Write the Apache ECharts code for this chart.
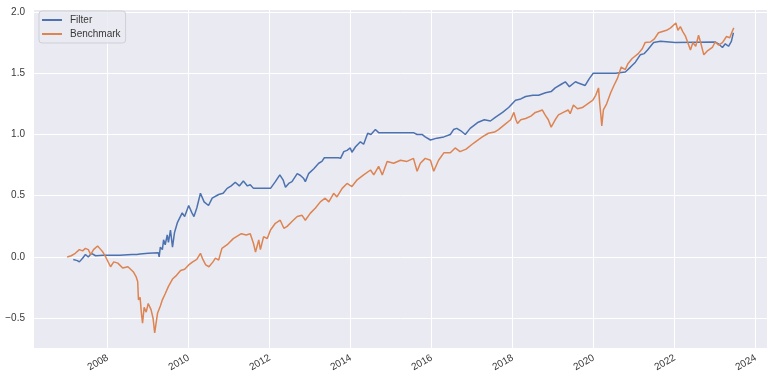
<!DOCTYPE html>
<html>
<head>
<meta charset="utf-8">
<script src="https://cdn.jsdelivr.net/npm/echarts@6/dist/echarts.min.js"></script>
<style>html,body{margin:0;padding:0;background:#fff}#c{width:773px;height:382px}</style>
</head>
<body>
<div id="c"></div>
<script>
// Decimal-year x positions and cumulative values
const filterX = [2007.15,2007.25,2007.3,2007.38,2007.45,2007.52,2007.6,2007.7,2007.9,2008.3,2008.6,2008.72,2008.76,2008.8,2009.0,2009.25,2009.27,2009.3,2009.35,2009.38,2009.42,2009.47,2009.5,2009.55,2009.6,2009.65,2009.72,2009.84,2009.9,2010.0,2010.04,2010.08,2010.13,2010.2,2010.29,2010.38,2010.49,2010.58,2010.74,2010.85,2010.95,2011.05,2011.15,2011.25,2011.35,2011.45,2011.52,2011.6,2012.02,2012.14,2012.25,2012.33,2012.39,2012.47,2012.55,2012.68,2012.76,2012.84,2012.88,2012.96,2013.09,2013.21,2013.29,2013.35,2013.70,2013.75,2013.83,2013.91,2013.99,2014.03,2014.12,2014.24,2014.32,2014.42,2014.5,2014.61,2014.69,2015.55,2015.64,2015.76,2015.8,2015.84,2015.97,2016.13,2016.3,2016.46,2016.54,2016.62,2016.72,2016.83,2016.95,2017.15,2017.3,2017.45,2017.57,2017.75,2017.9,2018.07,2018.2,2018.32,2018.5,2018.64,2018.81,2018.95,2019.05,2019.2,2019.3,2019.4,2019.55,2019.62,2019.79,2019.9,2019.99,2020.54,2020.78,2020.91,2021.03,2021.15,2021.25,2021.33,2021.48,2021.65,2022.01,2023.0,2023.08,2023.18,2023.25,2023.33,2023.4,2023.45];
const filterY = [-0.02,-0.03,-0.04,-0.01,0.02,0.0,0.03,0.01,0.015,0.015,0.02,0.02,0.03,0.025,0.03,0.035,0.0,0.08,0.06,0.14,0.1,0.18,0.12,0.22,0.08,0.2,0.28,0.36,0.33,0.42,0.43,0.36,0.33,0.4,0.52,0.45,0.42,0.48,0.51,0.52,0.56,0.58,0.61,0.58,0.62,0.58,0.59,0.56,0.56,0.615,0.67,0.63,0.57,0.60,0.615,0.68,0.665,0.64,0.615,0.68,0.72,0.765,0.78,0.81,0.81,0.805,0.86,0.87,0.89,0.855,0.90,0.94,0.92,1.01,1.0,1.04,1.015,1.015,1.0,1.0,1.015,0.98,0.955,0.97,0.98,1.0,1.04,1.05,1.03,1.0,1.05,1.1,1.12,1.11,1.14,1.18,1.22,1.28,1.29,1.31,1.32,1.32,1.34,1.35,1.38,1.41,1.43,1.39,1.43,1.42,1.40,1.46,1.50,1.50,1.51,1.55,1.59,1.65,1.66,1.69,1.75,1.76,1.75,1.755,1.74,1.71,1.74,1.72,1.76,1.83];

const benchX = [2007.0,2007.1,2007.2,2007.3,2007.38,2007.45,2007.52,2007.58,2007.65,2007.75,2007.83,2007.88,2007.95,2008.07,2008.15,2008.25,2008.37,2008.5,2008.63,2008.7,2008.74,2008.76,2008.8,2008.83,2008.86,2008.9,2008.95,2009.0,2009.07,2009.12,2009.16,2009.23,2009.3,2009.35,2009.42,2009.5,2009.6,2009.7,2009.8,2009.9,2010.0,2010.1,2010.2,2010.29,2010.35,2010.42,2010.5,2010.6,2010.66,2010.74,2010.82,2010.95,2011.1,2011.2,2011.3,2011.42,2011.52,2011.6,2011.65,2011.73,2011.77,2011.85,2011.94,2012.02,2012.14,2012.26,2012.35,2012.43,2012.55,2012.68,2012.8,2012.88,2013.0,2013.13,2013.25,2013.37,2013.46,2013.58,2013.66,2013.79,2013.91,2014.03,2014.16,2014.32,2014.49,2014.57,2014.69,2014.78,2014.9,2015.06,2015.23,2015.39,2015.55,2015.64,2015.72,2015.84,2015.97,2016.05,2016.17,2016.3,2016.46,2016.58,2016.7,2016.85,2017.0,2017.08,2017.25,2017.4,2017.55,2017.65,2017.8,2017.95,2018.03,2018.08,2018.12,2018.2,2018.32,2018.45,2018.56,2018.65,2018.73,2018.8,2018.88,2018.95,2018.98,2019.05,2019.13,2019.25,2019.37,2019.42,2019.5,2019.6,2019.72,2019.85,2019.98,2020.05,2020.12,2020.15,2020.18,2020.2,2020.24,2020.32,2020.42,2020.5,2020.59,2020.68,2020.78,2020.85,2020.95,2021.1,2021.2,2021.27,2021.4,2021.5,2021.6,2021.7,2021.8,2021.9,2022.03,2022.08,2022.14,2022.2,2022.27,2022.39,2022.45,2022.52,2022.59,2022.65,2022.72,2022.8,2022.93,2023.0,2023.08,2023.18,2023.28,2023.36,2023.42,2023.46];
const benchY = [0.0,0.01,0.03,0.06,0.05,0.07,0.06,0.02,0.06,0.09,0.06,0.04,0.0,-0.08,-0.04,-0.05,-0.09,-0.08,-0.12,-0.16,-0.2,-0.35,-0.33,-0.45,-0.54,-0.41,-0.45,-0.38,-0.43,-0.5,-0.62,-0.46,-0.4,-0.35,-0.3,-0.24,-0.18,-0.15,-0.11,-0.1,-0.065,-0.04,-0.02,0.03,-0.02,-0.065,-0.08,-0.04,-0.01,-0.025,0.07,0.1,0.15,0.17,0.19,0.18,0.19,0.11,0.04,0.14,0.06,0.166,0.15,0.22,0.275,0.30,0.234,0.25,0.29,0.33,0.34,0.30,0.356,0.40,0.45,0.48,0.45,0.52,0.49,0.56,0.60,0.575,0.63,0.67,0.71,0.67,0.74,0.67,0.78,0.765,0.79,0.78,0.805,0.70,0.765,0.805,0.79,0.70,0.79,0.85,0.85,0.89,0.86,0.88,0.92,0.94,0.98,1.01,1.02,1.04,1.08,1.12,1.18,1.12,1.09,1.12,1.13,1.15,1.18,1.19,1.20,1.16,1.12,1.06,1.05,1.12,1.16,1.18,1.20,1.17,1.24,1.21,1.22,1.25,1.28,1.32,1.38,1.25,1.15,1.07,1.2,1.25,1.34,1.4,1.46,1.55,1.53,1.58,1.62,1.66,1.7,1.75,1.755,1.78,1.83,1.84,1.85,1.87,1.91,1.85,1.88,1.84,1.80,1.69,1.75,1.72,1.81,1.74,1.65,1.68,1.71,1.755,1.73,1.75,1.80,1.79,1.84,1.87];

const xTicks = [2008,2010,2012,2014,2016,2018,2020,2022,2024];
const yTicks = [-0.5,0.0,0.5,1.0,1.5,2.0];
const seriesNames = ['Filter','Benchmark'];

const zip = (xs, ys) => xs.map((x, i) => [x, ys[i]]);
const lbl = {color:'#383838', fontFamily:'Liberation Sans, Arial, sans-serif', fontSize:10};

const chart = echarts.init(document.getElementById('c'), null, {renderer:'canvas'});
chart.setOption({
  animation:false,
  backgroundColor:'#ffffff',
  grid:{left:34, right:6, top:10, bottom:34, show:true, backgroundColor:'#eaeaf2', borderWidth:0},
  legend:{
    data:seriesNames, orient:'vertical', left:39, top:11,
    backgroundColor:'rgba(234,234,242,0.85)', borderColor:'#cfcfd6', borderWidth:1, borderRadius:3,
    padding:[4,5,4,3], itemGap:4, itemWidth:20, itemHeight:2, icon:'rect',
    textStyle:{color:'#383838', fontFamily:'Liberation Sans, Arial, sans-serif', fontSize:10, padding:[0,0,0,3]}
  },
  xAxis:{
    type:'value', min:2006.18, max:2024.28,
    axisLine:{show:false},
    axisTick:{show:false, customValues:xTicks},
    axisLabel:Object.assign({customValues:xTicks, rotate:30, margin:9, formatter:v=>String(Math.round(v))}, lbl),
    splitLine:{show:true, lineStyle:{color:'#ffffff', width:1}}
  },
  yAxis:{
    type:'value', min:-0.743, max:2.016,
    axisLine:{show:false},
    axisTick:{show:false, customValues:yTicks},
    axisLabel:Object.assign({customValues:yTicks, margin:9, formatter:v=>v.toFixed(1).replace('-','\u2212')}, lbl),
    splitLine:{show:true, lineStyle:{color:'#ffffff', width:1}}
  },
  series:[
    {name:seriesNames[0], type:'line', data:zip(filterX, filterY), showSymbol:false, symbol:'none',
     lineStyle:{color:'#4c72b0', width:1.5}, itemStyle:{color:'#4c72b0'}},
    {name:seriesNames[1], type:'line', data:zip(benchX, benchY), showSymbol:false, symbol:'none',
     lineStyle:{color:'#dd8452', width:1.5}, itemStyle:{color:'#dd8452'}}
  ]
});
</script>
</body>
</html>
